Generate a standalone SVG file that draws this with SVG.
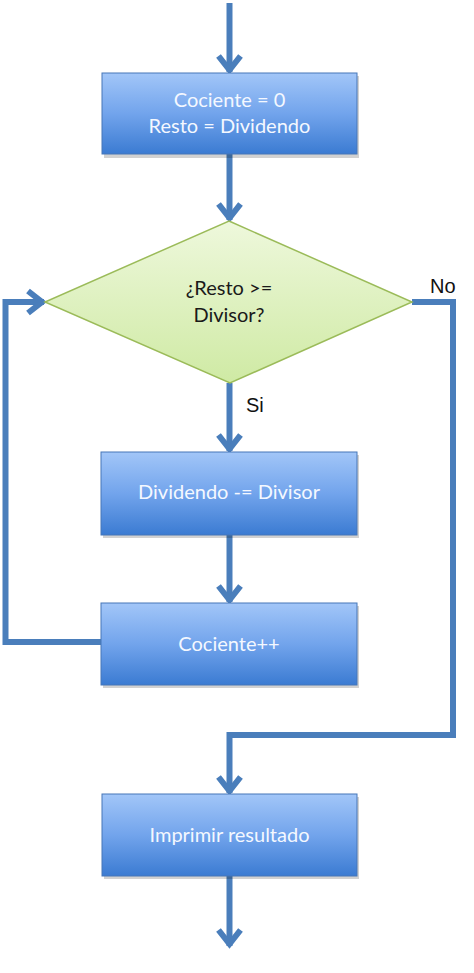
<svg xmlns="http://www.w3.org/2000/svg" width="474" height="973" viewBox="0 0 474 973">
<style>
.box{fill:url(#gb);stroke:#4677b8;stroke-width:1}
.shadow{fill:#000;opacity:0.18}
.btxt{font-family:Lato,"Open Sans",sans-serif;font-size:20px;fill:#f4f8ff;text-anchor:middle}
.dtxt{font-family:Lato,"Open Sans",sans-serif;font-size:20px;fill:#1a1a1a;text-anchor:middle}
.lbl{font-family:"Liberation Sans",Arial,sans-serif;font-size:20px;fill:#111}
.con{fill:none;stroke:#4a7ebb;stroke-width:6;stroke-linejoin:miter}
</style>
<defs>
<linearGradient id="gb" x1="0" y1="0" x2="0" y2="1">
<stop offset="0" stop-color="#a2c6f8"/>
<stop offset="0.5" stop-color="#72a4ec"/>
<stop offset="1" stop-color="#3b7bd2"/>
</linearGradient>
<linearGradient id="gd" x1="0" y1="0" x2="0" y2="1">
<stop offset="0" stop-color="#eef8dc"/>
<stop offset="1" stop-color="#cfeaa4"/>
</linearGradient>
<marker id="arr" viewBox="-24 -15 30 30" refX="0" refY="0" markerWidth="30" markerHeight="30" markerUnits="userSpaceOnUse" orient="auto">
<path d="M-16,-11 L-2,0 L-16,11" fill="none" stroke="#4a7ebb" stroke-width="6"/>
</marker>
</defs>
<g id="connectors">
<path class="con" d="M229.5,3 V72" marker-end="url(#arr)"/>
<path class="con" d="M229.5,154 V220" marker-end="url(#arr)"/>
<path class="con" d="M229.5,383 V451" marker-end="url(#arr)"/>
<path class="con" d="M229.5,535 V602" marker-end="url(#arr)"/>
<path class="con" d="M101,642 H5.5 V302 H44" marker-end="url(#arr)"/>
<path class="con" d="M412,302 H453 V735 H229.5 V793" marker-end="url(#arr)"/>
<path class="con" d="M229.5,876 V946" marker-end="url(#arr)"/>
</g>
<g id="n1">
<rect class="shadow" x="104" y="76" width="255" height="82"/>
<rect class="box" x="102" y="73" width="255" height="81"/>
<text class="btxt" x="229.5" y="107">Cociente = 0</text>
<text class="btxt" x="229.5" y="133">Resto = Dividendo</text>
</g>
<g id="n2">
<polygon points="229,221 412,302 230,383 45,302" fill="url(#gd)" stroke="#9bbb59" stroke-width="1.5"/>
<text class="dtxt" x="229" y="295">¿Resto &gt;=</text>
<text class="dtxt" x="229" y="322">Divisor?</text>
</g>
<g id="n3">
<rect class="shadow" x="103" y="455" width="256" height="83"/>
<rect class="box" x="101" y="452" width="256" height="83"/>
<text class="btxt" x="229" y="499">Dividendo -= Divisor</text>
</g>
<g id="n4">
<rect class="shadow" x="103" y="606" width="256" height="82"/>
<rect class="box" x="101" y="603" width="256" height="82"/>
<text class="btxt" x="229" y="651">Cociente++</text>
</g>
<g id="n5">
<rect class="shadow" x="104" y="797" width="255" height="82"/>
<rect class="box" x="102" y="794" width="255" height="82"/>
<text class="btxt" x="229.5" y="842">Imprimir resultado</text>
</g>
<text class="lbl" x="430" y="293">No</text>
<text class="lbl" x="246" y="412">Si</text>
</svg>
